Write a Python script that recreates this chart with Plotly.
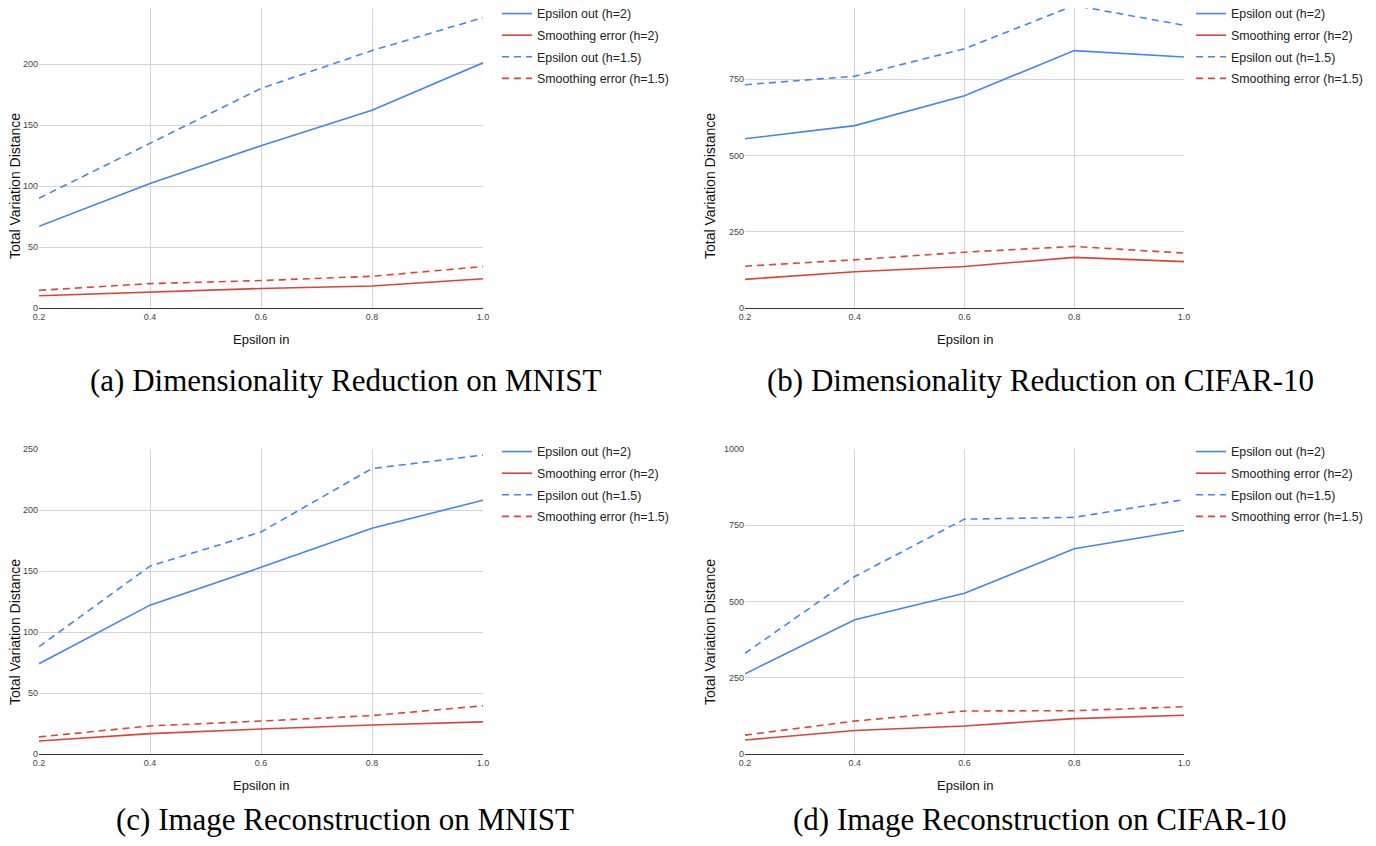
import plotly.graph_objects as go

# Page has an 8px body margin, so the figure is sized to fit the window exactly.
OFF = 8
WF, HF = 1360, 830

eps_in = [0.2, 0.4, 0.6, 0.8, 1.0]
series_names = ["Epsilon out (h=2)", "Smoothing error (h=2)",
                "Epsilon out (h=1.5)", "Smoothing error (h=1.5)"]

# (a) Dimensionality Reduction on MNIST
a_eps_out_h2 = [67, 102, 133, 162, 201]
a_smooth_h2 = [10, 13, 16, 18, 24]
a_eps_out_h15 = [90, 135, 180, 211, 238]
a_smooth_h15 = [14.5, 20, 22.5, 26, 34]

# (b) Dimensionality Reduction on CIFAR-10
b_eps_out_h2 = [555, 598, 696, 844, 823]
b_smooth_h2 = [94, 119, 136, 166, 152]
b_eps_out_h15 = [732, 760, 850, 992, 927]
b_smooth_h15 = [137, 158, 183, 202, 180]

# (c) Image Reconstruction on MNIST
c_eps_out_h2 = [74, 122, 153, 185, 208]
c_smooth_h2 = [10.7, 16.7, 20.5, 23.8, 26.3]
c_eps_out_h15 = [88, 154, 182, 234, 245]
c_smooth_h15 = [14, 23, 27, 31.5, 39.5]

# (d) Image Reconstruction on CIFAR-10
d_eps_out_h2 = [263, 440, 527, 673, 733]
d_smooth_h2 = [46, 77, 92, 116, 127]
d_eps_out_h15 = [330, 582, 770, 776, 834]
d_smooth_h15 = [62, 108, 141, 142, 155]

captions = ["(a) Dimensionality Reduction on MNIST",
            "(b) Dimensionality Reduction on CIFAR-10",
            "(c) Image Reconstruction on MNIST",
            "(d) Image Reconstruction on CIFAR-10"]
y_ticks_small = [0, 50, 100, 150, 200, 250]
y_ticks_large = [0, 250, 500, 750, 1000]
x_title = "Epsilon in"
y_title = "Total Variation Distance"

panels = [
    dict(data=[a_eps_out_h2, a_smooth_h2, a_eps_out_h15, a_smooth_h15], yt=y_ticks_small),
    dict(data=[b_eps_out_h2, b_smooth_h2, b_eps_out_h15, b_smooth_h15], yt=y_ticks_large),
    dict(data=[c_eps_out_h2, c_smooth_h2, c_eps_out_h15, c_smooth_h15], yt=y_ticks_small),
    dict(data=[d_eps_out_h2, d_smooth_h2, d_eps_out_h15, d_smooth_h15], yt=y_ticks_large),
]

BLUE = "#4285F4"
RED = "#DB4437"
colors = [BLUE, RED, BLUE, RED]
dashes = ["solid", "solid", "7px,5px", "7px,5px"]

# screen-pixel geometry of each panel: (left, right, top(max tick), bottom(0))
geo = [(39, 483, 3, 308), (745, 1184, 3, 308),
       (39, 483, 449, 754), (745, 1184, 449, 754)]
legend_pos = [(497, -1), (1191, -1), (497, 437), (1191, 437)]
caption_pos = [(345, 380), (1040, 380), (345, 819), (1040, 819)]
ytitle_pos = [(15, 186), (710, 186), (15, 632), (710, 632)]

def px(s):
    return (s - OFF) / WF

def py(s):
    return 1 - (s - OFF) / HF

fig = go.Figure()
layout = dict(width=WF, height=HF, margin=dict(l=0, r=0, t=0, b=0, autoexpand=False),
              plot_bgcolor="white", paper_bgcolor="white",
              font=dict(family="Liberation Sans, Arial", color="#222"))
annotations = []

for i, p in enumerate(panels):
    n = "" if i == 0 else str(i + 1)
    lg = "legend" if i == 0 else "legend" + str(i + 1)
    for j in range(4):
        fig.add_trace(go.Scatter(
            x=eps_in, y=p["data"][j], mode="lines", name=series_names[j],
            line=dict(color=colors[j], width=1.6, dash=dashes[j]),
            xaxis="x" + n, yaxis="y" + n, legend=lg,
            legendgroup=f"g{i}_{j}"))
    l, r, t, b = geo[i]
    yt = p["yt"]
    t_dom = max(t, OFF)
    ymax = yt[-1] * (b - t_dom) / (b - t)
    layout["xaxis" + n] = dict(
        domain=[px(l), px(r)], anchor="y" + n, range=[0.2, 1.0],
        tickvals=eps_in, ticktext=[f"{v:.1f}" for v in eps_in],
        showgrid=True, gridcolor="#d4d4d4", gridwidth=1,
        showline=True, linecolor="#333", linewidth=1.2,
        zeroline=False, ticks="", tickfont=dict(size=9, color="#444"),
        fixedrange=True)
    layout["yaxis" + n] = dict(
        domain=[py(b), py(t_dom)], anchor="x" + n, range=[0, ymax],
        tickvals=yt, showgrid=True, gridcolor="#d4d4d4", gridwidth=1,
        showline=False, zeroline=False, ticks="",
        tickfont=dict(size=9, color="#444"), fixedrange=True)
    lx, ly = legend_pos[i]
    layout[lg] = dict(x=px(lx), y=py(ly), xanchor="left", yanchor="top",
                      font=dict(size=12.4, color="#222"), tracegroupgap=2.5,
                      bgcolor="rgba(255,255,255,0)", itemwidth=30)
    # axis titles
    tx, ty = ytitle_pos[i]
    annotations.append(dict(text=y_title, x=px(tx), y=py(ty),
                            xref="paper", yref="paper", textangle=-90,
                            showarrow=False, font=dict(size=14, color="#111"),
                            xanchor="center", yanchor="middle"))
    annotations.append(dict(text=x_title, x=px((l + r) / 2), y=py(b + 31),
                            xref="paper", yref="paper", showarrow=False,
                            font=dict(size=13, color="#111"),
                            xanchor="center", yanchor="middle"))
    cx, cy = caption_pos[i]
    annotations.append(dict(text=captions[i], x=px(cx), y=py(cy),
                            xref="paper", yref="paper", showarrow=False,
                            font=dict(family="Liberation Serif, Times New Roman",
                                      size=31, color="#000"),
                            xanchor="center", yanchor="middle"))

layout["annotations"] = annotations
fig.update_layout(**layout)
fig.write_html("out.html")
